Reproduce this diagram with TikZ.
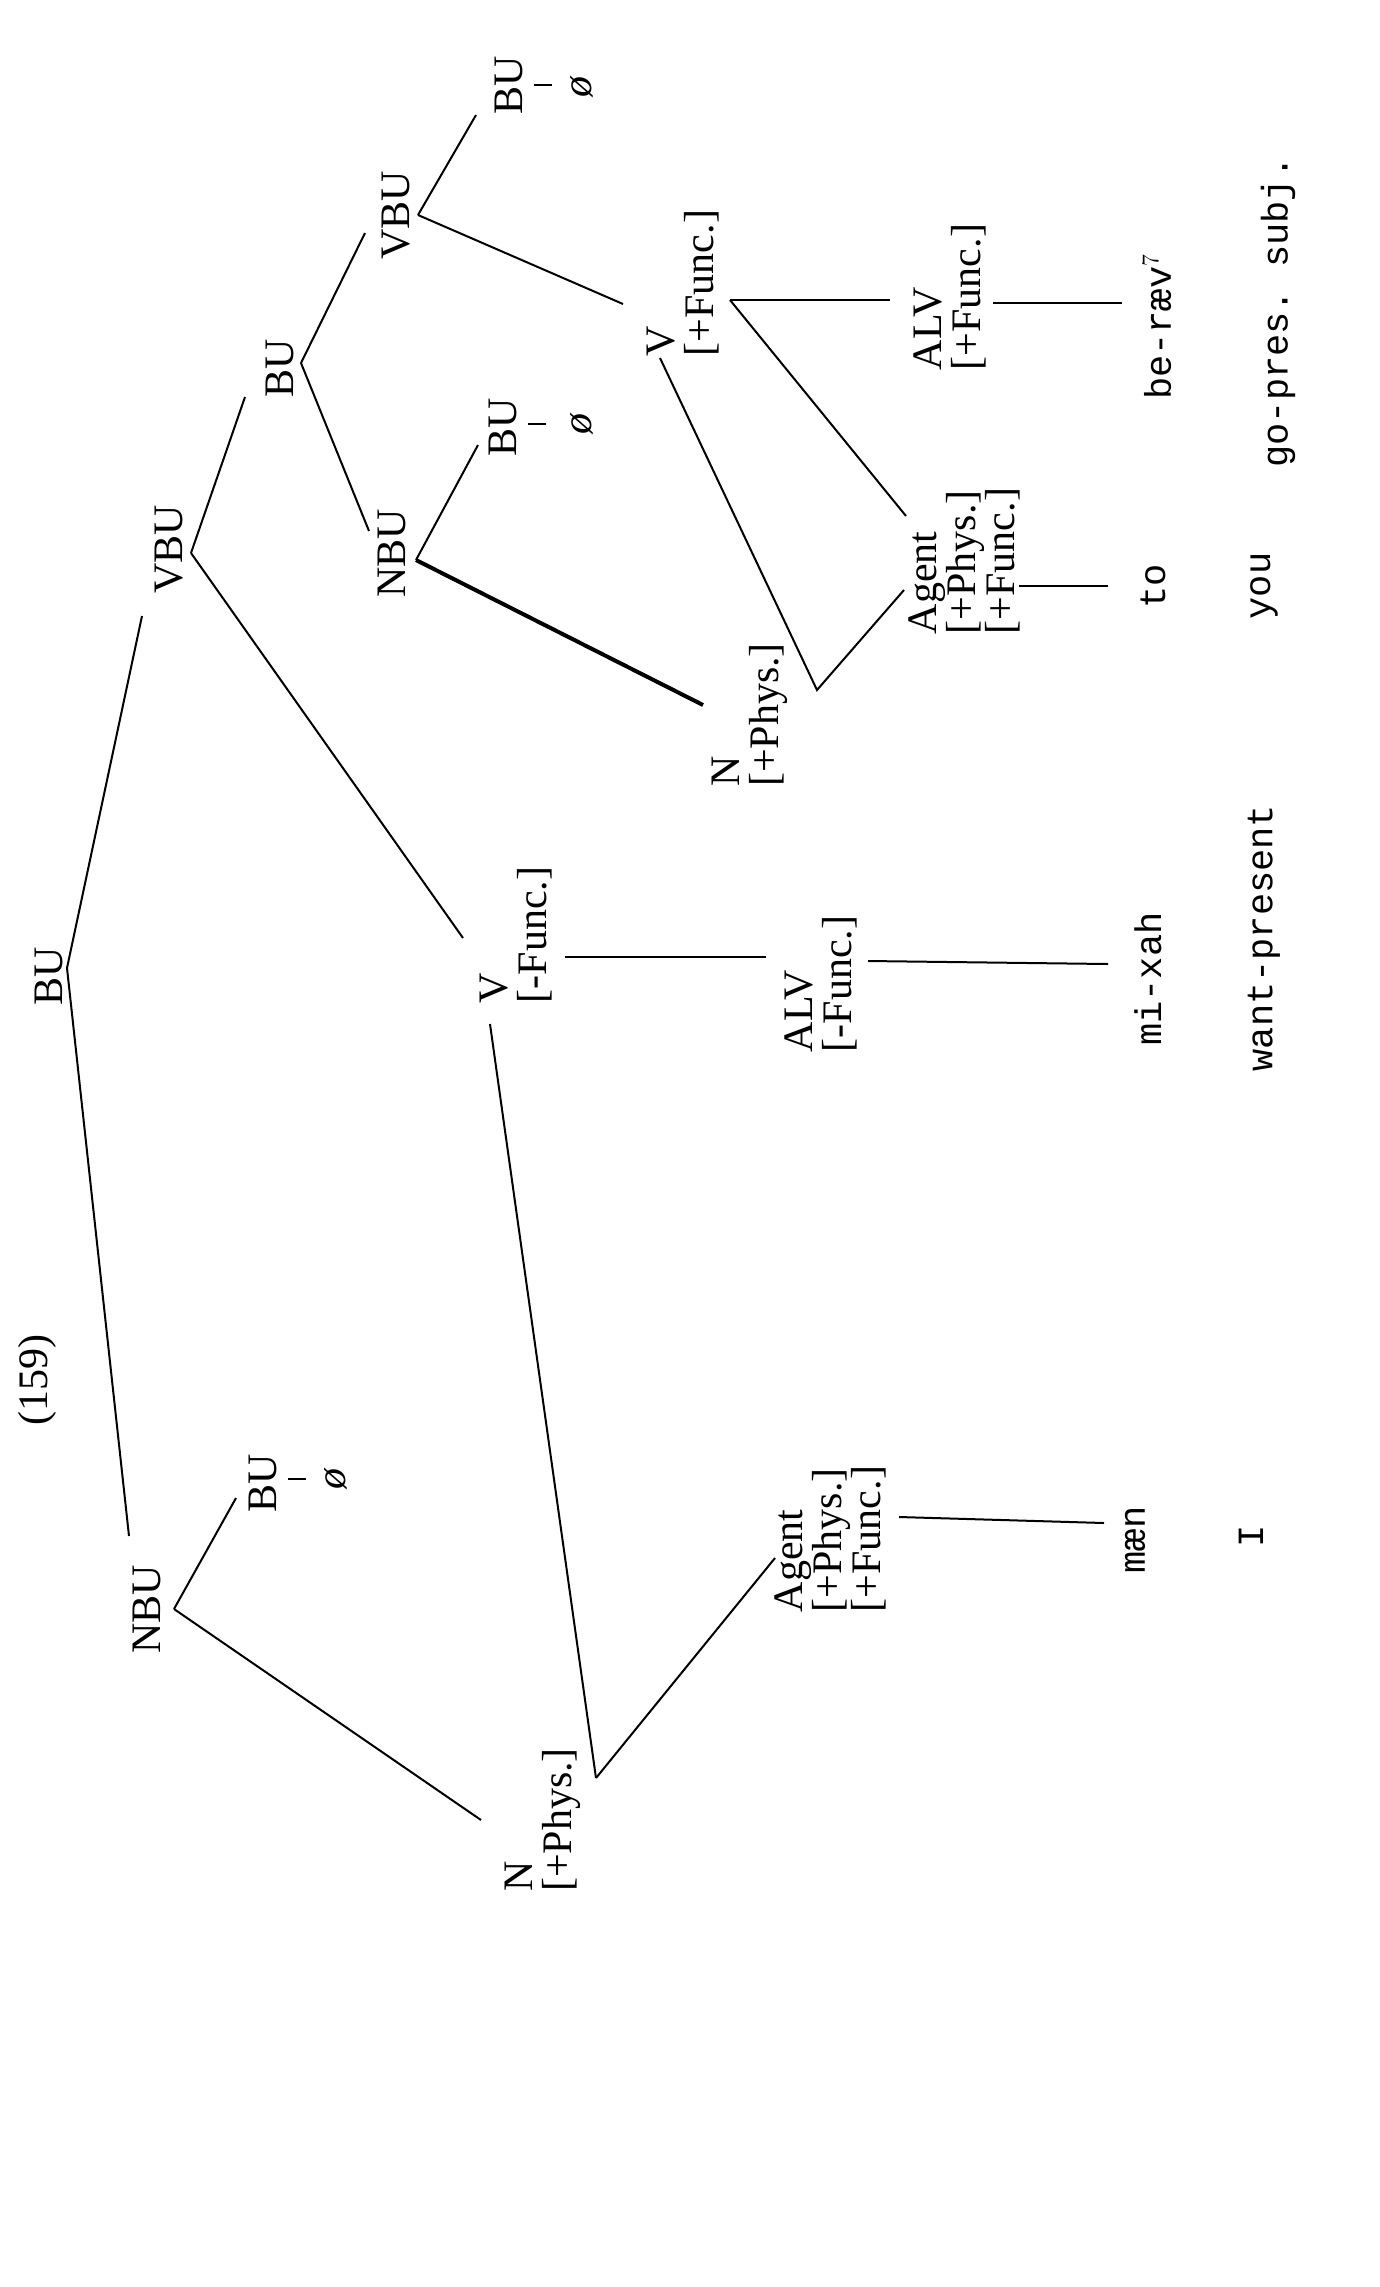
\documentclass[tikz,border=0pt]{standalone}
\usepackage{fontspec}
\setmainfont{Liberation Serif}
\setmonofont{Liberation Mono}
\begin{document}
\begin{tikzpicture}[x=0.5pt,y=-0.5pt,
  lab/.style={rotate=90,inner sep=0pt,align=left,font=\fontsize{21}{19.5}\selectfont},
  wrd/.style={rotate=90,inner sep=0pt,font=\fontsize{18.5}{20}\selectfont\ttfamily},
  ln/.style={line width=1pt}]
\useasboundingbox (0,0) rectangle (1380,2287);
% labels
\node[lab] (bu0) at (49,976) {BU};
\node[lab] (vbu1) at (169,549) {VBU};
\node[lab] (bu2) at (280,368) {BU};
\node[lab] (vbu3) at (396,215) {VBU};
\node[lab] (bu4) at (509,85) {BU};
\node[lab] (z4) at (582,87) {\itshape ø};
\node[lab] (vf) at (683,283) {V\\{}[+Func.]};
\node[lab] (alv1) at (950,297) {ALV\\{}[+Func.]};
\node[wrd] (w1) at (1157,327) {be-ræv$^7$};
\node[wrd] (g1) at (1278,312) {go-pres. subj.};
\node[lab] (bu5) at (503,427) {BU};
\node[lab] (z5) at (582,424) {\itshape ø};
\node[lab] (nbu1) at (392,553) {NBU};
\node[lab] (n1) at (750,715) {N\\{}[+Phys.]};
\node[lab] (ag1) at (964,561) {Agent\\{}[+Phys.]\\{}[+Func.]};
\node[wrd] (w2) at (1153,586) {to};
\node[wrd] (g2) at (1264,586) {you};
\node[lab] (vm) at (516,935) {V\\{}[-Func.]};
\node[lab] (alv2) at (821,984) {ALV\\{}[-Func.]};
\node[wrd] (w3) at (1148,979) {mi-xah};
\node[wrd] (g3) at (1264,938) {want-present};
\node[lab] (num) at (37,1380) {(159)};
\node[lab] (nbu2) at (147,1609) {NBU};
\node[lab] (bu6) at (263,1483) {BU};
\node[lab] (z6) at (336,1479) {\itshape ø};
\node[lab] (n2) at (543,1820) {N\\{}[+Phys.]};
\node[lab] (ag2) at (830,1539) {Agent\\{}[+Phys.]\\{}[+Func.]};
\node[wrd] (w4) at (1135,1540) {mæn};
\node[wrd] (g4) at (1251,1536) {I};
% vertices
\coordinate (pbu0) at (67,968);
\coordinate (pvbu1) at (191,553);
\coordinate (pbu2) at (301,363);
\coordinate (pvbu3) at (418,215);
\coordinate (pvf) at (730,300);
\coordinate (pvfa) at (660,358);
\coordinate (pnbu1) at (416,560);
\coordinate (pn1) at (817,690);
\coordinate (pvm) at (490,1024);
\coordinate (pnbu2) at (174,1609);
\coordinate (pn2) at (596,1778);
\draw[ln] (pbu0) -- (142,616);
\draw[ln] (pbu0) -- (129,1536);
\draw[ln] (pvbu1) -- (245,397);
\draw[ln] (pvbu1) -- (463,938);
\draw[ln] (pbu2) -- (365,233);
\draw[ln] (pbu2) -- (369,531);
\draw[ln] (pvbu3) -- (476,115);
\draw[ln] (pvbu3) -- (623,304);
\draw[ln] (534,85) -- (552,85);
\draw[ln] (pvf) -- (890,300);
\draw[ln] (pvf) -- (906,516);
\draw[ln] (pvfa) -- (pn1) -- (904,590);
\draw[ln] (993,303) -- (1122,303);
\draw[ln] (528,424) -- (546,424);
\draw[ln] (pnbu1) -- (478,445);
\draw[line width=2pt] (pnbu1) -- (703,705);
\draw[ln] (1019,586) -- (1108,586);
\draw[ln] (565,957) -- (766,957);
\draw[ln] (pvm) -- (pn2);
\draw[ln] (868,961) -- (1108,964);
\draw[ln] (pnbu2) -- (236,1498);
\draw[ln] (pnbu2) -- (481,1820);
\draw[ln] (288,1479) -- (306,1479);
\draw[ln] (pn2) -- (775,1558);
\draw[ln] (899,1517) -- (1104,1523);
\end{tikzpicture}
\end{document}
